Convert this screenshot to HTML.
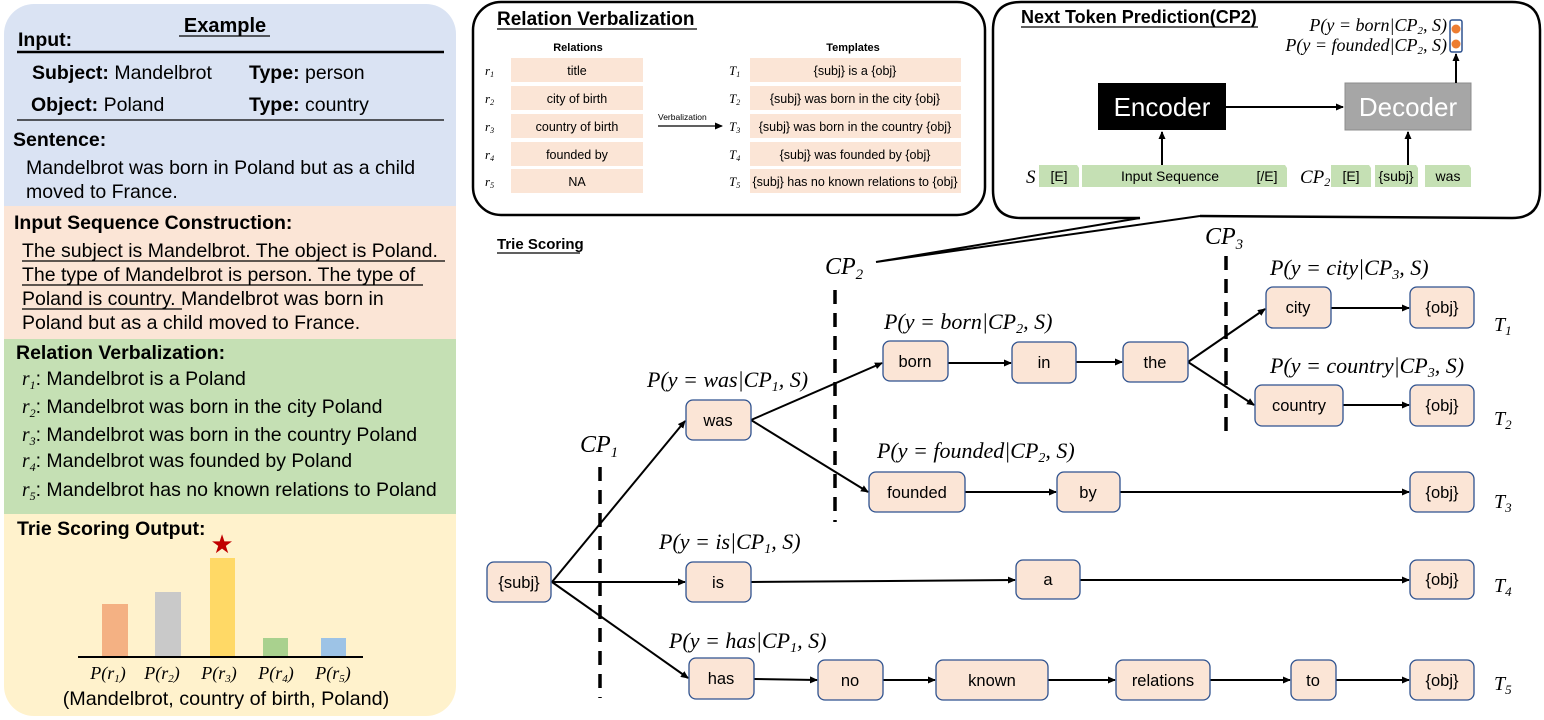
<!DOCTYPE html>
<html><head><meta charset="utf-8"><style>
body{margin:0;background:#fff;}
svg{display:block;font-family:"Liberation Sans",sans-serif;}
.m{font-family:"Liberation Serif",serif;font-style:italic;}
.n{fill:#fbe5d6;stroke:#2f528f;stroke-width:1.3;}
</style></head><body>
<svg width="1544" height="720" viewBox="0 0 1544 720">
<defs>
<marker id="a" markerWidth="8" markerHeight="8" refX="7" refY="4" orient="auto" markerUnits="userSpaceOnUse"><path d="M0,0.5 L8,4 L0,7.5z" fill="#000"/></marker>
<clipPath id="lp"><rect x="4" y="4" width="452" height="712" rx="30"/></clipPath>
</defs>
<!-- LEFT PANEL -->
<g clip-path="url(#lp)">
<rect x="4" y="4" width="452" height="202" fill="#dae3f3"/>
<rect x="4" y="206" width="452" height="133" fill="#fbe5d6"/>
<rect x="4" y="339" width="452" height="175" fill="#c5e0b4"/>
<rect x="4" y="514" width="452" height="202" fill="#fff2cc"/>
</g>
<g font-size="19.5" fill="#000">
<text x="225" y="32" font-weight="bold" font-size="20" text-anchor="middle">Example</text>
<line x1="179" y1="36" x2="270" y2="36" stroke="#000" stroke-width="1.2"/>
<text x="18" y="46" font-weight="bold">Input:</text>
<line x1="17" y1="52" x2="444" y2="52" stroke="#000" stroke-width="2.5"/>
<text x="32" y="79"><tspan font-weight="bold">Subject:</tspan> Mandelbrot</text>
<text x="249" y="79"><tspan font-weight="bold">Type:</tspan> person</text>
<text x="31" y="111"><tspan font-weight="bold">Object:</tspan> Poland</text>
<text x="249" y="111"><tspan font-weight="bold">Type:</tspan> country</text>
<line x1="17" y1="120" x2="444" y2="120" stroke="#000" stroke-width="1.3"/>
<text x="13" y="146" font-weight="bold">Sentence:</text>
<text x="26" y="174">Mandelbrot was born in Poland but as a child</text>
<text x="26" y="198">moved to France.</text>
<text x="14" y="229" font-weight="bold">Input Sequence Construction:</text>
<text x="22" y="257">The subject is Mandelbrot. The object is Poland.</text>
<text x="22" y="281">The type of Mandelbrot is person. The type of</text>
<text x="22" y="305">Poland is country. Mandelbrot was born in</text>
<text x="22" y="329">Poland but as a child moved to France.</text>
<g stroke="#000" stroke-width="1.2"><line x1="22" y1="261" x2="445" y2="261"/><line x1="22" y1="285" x2="423" y2="285"/><line x1="22" y1="309" x2="182" y2="309"/></g>
<text x="16" y="359" font-weight="bold">Relation Verbalization:</text>
<text x="22" y="385"><tspan class="m">r</tspan><tspan class="m" font-size="12" dy="4">1</tspan><tspan dy="-4">: Mandelbrot is a Poland</tspan></text>
<text x="22" y="413"><tspan class="m">r</tspan><tspan class="m" font-size="12" dy="4">2</tspan><tspan dy="-4">: Mandelbrot was born in the city Poland</tspan></text>
<text x="22" y="441"><tspan class="m">r</tspan><tspan class="m" font-size="12" dy="4">3</tspan><tspan dy="-4">: Mandelbrot was born in the country Poland</tspan></text>
<text x="22" y="467"><tspan class="m">r</tspan><tspan class="m" font-size="12" dy="4">4</tspan><tspan dy="-4">: Mandelbrot was founded by Poland</tspan></text>
<text x="22" y="496"><tspan class="m">r</tspan><tspan class="m" font-size="12" dy="4">5</tspan><tspan dy="-4">: Mandelbrot has no known relations to Poland</tspan></text>
<text x="17" y="535" font-weight="bold">Trie Scoring Output:</text>
</g>
<rect x="102" y="604" width="26" height="53" fill="#f4b183"/>
<rect x="155" y="592" width="26" height="65" fill="#c9c9c9"/>
<rect x="210" y="558" width="25" height="99" fill="#ffd966"/>
<rect x="263" y="638" width="25" height="19" fill="#a9d18e"/>
<rect x="321" y="638" width="25" height="19" fill="#9dc3e6"/>
<line x1="78" y1="657" x2="363" y2="657" stroke="#000" stroke-width="2"/>
<text x="222" y="553" font-size="26" fill="#c00000" text-anchor="middle">★</text>
<g class="m" font-size="18" text-anchor="middle">
<text x="108" y="679">P(r<tspan font-size="11" dy="3">1</tspan><tspan dy="-3">)</tspan></text>
<text x="162" y="679">P(r<tspan font-size="11" dy="3">2</tspan><tspan dy="-3">)</tspan></text>
<text x="219" y="679">P(r<tspan font-size="11" dy="3">3</tspan><tspan dy="-3">)</tspan></text>
<text x="276" y="679">P(r<tspan font-size="11" dy="3">4</tspan><tspan dy="-3">)</tspan></text>
<text x="333" y="679">P(r<tspan font-size="11" dy="3">5</tspan><tspan dy="-3">)</tspan></text>
</g>
<text x="226" y="705" font-size="19.8" text-anchor="middle">(Mandelbrot, country of birth, Poland)</text>

<!-- RELATION VERBALIZATION BOX -->
<rect x="473" y="2" width="512" height="213" rx="28" fill="none" stroke="#000" stroke-width="2.5"/>
<text x="497" y="25" font-size="19" font-weight="bold">Relation Verbalization</text>
<line x1="497" y1="29" x2="697" y2="29" stroke="#000" stroke-width="1.3"/>
<text x="578" y="51" font-size="11" font-weight="bold" text-anchor="middle">Relations</text>
<text x="853" y="51" font-size="11" font-weight="bold" text-anchor="middle">Templates</text>
<g font-size="12.5" text-anchor="middle">
<rect x="511" y="58" width="132" height="24" fill="#fbe5d6"/><text x="577" y="75">title</text>
<rect x="511" y="86" width="132" height="24" fill="#fbe5d6"/><text x="577" y="103">city of birth</text>
<rect x="511" y="114" width="132" height="24" fill="#fbe5d6"/><text x="577" y="131">country of birth</text>
<rect x="511" y="142" width="132" height="24" fill="#fbe5d6"/><text x="577" y="159">founded by</text>
<rect x="511" y="169" width="132" height="24" fill="#fbe5d6"/><text x="577" y="186">NA</text>
<rect x="750" y="58" width="211" height="24" fill="#fbe5d6"/><text x="855" y="75">{subj} is a {obj}</text>
<rect x="750" y="86" width="211" height="24" fill="#fbe5d6"/><text x="855" y="103">{subj} was born in the city {obj}</text>
<rect x="750" y="114" width="211" height="24" fill="#fbe5d6"/><text x="855" y="131">{subj} was born in the country {obj}</text>
<rect x="750" y="142" width="211" height="24" fill="#fbe5d6"/><text x="855" y="159">{subj} was founded by {obj}</text>
<rect x="750" y="169" width="211" height="24" fill="#fbe5d6"/><text x="855" y="186">{subj} has no known relations to {obj}</text>
</g>
<g class="m" font-size="13">
<text x="485" y="75">r<tspan font-size="8" dy="2">1</tspan></text>
<text x="485" y="103">r<tspan font-size="8" dy="2">2</tspan></text>
<text x="485" y="131">r<tspan font-size="8" dy="2">3</tspan></text>
<text x="485" y="159">r<tspan font-size="8" dy="2">4</tspan></text>
<text x="485" y="186">r<tspan font-size="8" dy="2">5</tspan></text>
<text x="729" y="75">T<tspan font-size="8" dy="2">1</tspan></text>
<text x="729" y="103">T<tspan font-size="8" dy="2">2</tspan></text>
<text x="729" y="131">T<tspan font-size="8" dy="2">3</tspan></text>
<text x="729" y="159">T<tspan font-size="8" dy="2">4</tspan></text>
<text x="729" y="186">T<tspan font-size="8" dy="2">5</tspan></text>
</g>
<text x="658" y="120" font-size="8.5">Verbalization</text>
<line x1="658" y1="126" x2="722" y2="126" stroke="#000" stroke-width="1.3" marker-end="url(#a)"/>

<!-- NEXT TOKEN BOX -->
<path d="M1140,218 L1021,218 Q993,218 993,190 L993,30 Q993,2 1021,2 L1512,2 Q1540,2 1540,30 L1540,190 Q1540,218 1512,218 L1200,216" fill="none" stroke="#000" stroke-width="2.5"/>
<path d="M1140,218 L876,262 L1200,216" fill="none" stroke="#000" stroke-width="2"/>
<text x="1021" y="23" font-size="18" font-weight="bold">Next Token Prediction(CP2)</text>
<line x1="1021" y1="27" x2="1258" y2="27" stroke="#000" stroke-width="1.3"/>
<rect x="1098" y="83" width="128" height="47" fill="#000"/>
<text x="1162" y="116" font-size="26" fill="#fff" text-anchor="middle">Encoder</text>
<rect x="1345" y="83" width="126" height="47" fill="#a6a6a6" stroke="#8c8c8c"/>
<text x="1408" y="116" font-size="26" fill="#fff" text-anchor="middle">Decoder</text>
<line x1="1226" y1="107" x2="1343" y2="107" stroke="#000" stroke-width="2" marker-end="url(#a)"/>
<line x1="1162" y1="165" x2="1162" y2="132" stroke="#000" stroke-width="2" marker-end="url(#a)"/>
<line x1="1408" y1="165" x2="1408" y2="132" stroke="#000" stroke-width="2" marker-end="url(#a)"/>
<line x1="1456" y1="83" x2="1456" y2="54" stroke="#000" stroke-width="2" marker-end="url(#a)"/>
<rect x="1450" y="20" width="12" height="32" rx="2" fill="#fff" stroke="#2f528f" stroke-width="1.5"/>
<circle cx="1456" cy="29" r="4.5" fill="#ed7d31"/><circle cx="1456" cy="44" r="4.5" fill="#ed7d31"/>
<g class="m" font-size="18" text-anchor="end">
<text x="1447" y="31">P(y = born|CP<tspan font-size="11" dy="3">2</tspan><tspan dy="-3">, S)</tspan></text>
<text x="1447" y="51">P(y = founded|CP<tspan font-size="11" dy="3">2</tspan><tspan dy="-3">, S)</tspan></text>
</g>
<g fill="#c5e0b4">
<path d="M1039,165h38l2,3v19h-40z"/><path d="M1082,165h174l2,3v19h-176z"/><path d="M1247,165h38l2,3v19h-40z"/>
<path d="M1331,165h38l2,3v19h-40z"/><path d="M1375,165h41l2,3v19h-43z"/><path d="M1425,165h44l2,3v19h-46z"/>
</g>
<g font-size="14" text-anchor="middle">
<text x="1059" y="181">[E]</text><text x="1170" y="181">Input Sequence</text><text x="1267" y="181">[/E]</text>
<text x="1351" y="181">[E]</text><text x="1396" y="181">{subj}</text><text x="1448" y="181">was</text>
</g>
<text x="1026" y="183" class="m" font-size="19">S</text>
<text x="1300" y="183" class="m" font-size="19">CP<tspan font-size="12" dy="3">2</tspan></text>

<!-- TRIE -->
<text x="497" y="249" font-size="15" font-weight="bold">Trie Scoring</text>
<line x1="497" y1="253" x2="580" y2="253" stroke="#000" stroke-width="1.3"/>
<g stroke="#000" stroke-width="3.5" stroke-dasharray="14,9">
<line x1="600" y1="467" x2="600" y2="698"/>
<line x1="835" y1="290" x2="835" y2="522"/>
<line x1="1226" y1="256" x2="1226" y2="438"/>
</g>
<g class="m" font-size="24">
<text x="580" y="452">CP<tspan font-size="15" dy="5">1</tspan></text>
<text x="825" y="274">CP<tspan font-size="15" dy="5">2</tspan></text>
<text x="1205" y="244">CP<tspan font-size="15" dy="5">3</tspan></text>
</g>
<g class="m" font-size="22">
<text x="647" y="387">P(y = was|CP<tspan font-size="14" dy="4">1</tspan><tspan dy="-4">, S)</tspan></text>
<text x="659" y="549">P(y = is|CP<tspan font-size="14" dy="4">1</tspan><tspan dy="-4">, S)</tspan></text>
<text x="669" y="648">P(y = has|CP<tspan font-size="14" dy="4">1</tspan><tspan dy="-4">, S)</tspan></text>
<text x="884" y="329">P(y = born|CP<tspan font-size="14" dy="4">2</tspan><tspan dy="-4">, S)</tspan></text>
<text x="877" y="458">P(y = founded|CP<tspan font-size="14" dy="4">2</tspan><tspan dy="-4">, S)</tspan></text>
<text x="1270" y="275">P(y = city|CP<tspan font-size="14" dy="4">3</tspan><tspan dy="-4">, S)</tspan></text>
<text x="1270" y="373">P(y = country|CP<tspan font-size="14" dy="4">3</tspan><tspan dy="-4">, S)</tspan></text>
</g>
<g class="m" font-size="20">
<text x="1494" y="331">T<tspan font-size="13" dy="4">1</tspan></text>
<text x="1494" y="425">T<tspan font-size="13" dy="4">2</tspan></text>
<text x="1494" y="508">T<tspan font-size="13" dy="4">3</tspan></text>
<text x="1494" y="592">T<tspan font-size="13" dy="4">4</tspan></text>
<text x="1494" y="690">T<tspan font-size="13" dy="4">5</tspan></text>
</g>
<g stroke="#000" stroke-width="2" fill="none" marker-end="url(#a)">
<line x1="552" y1="582" x2="685" y2="421"/>
<line x1="552" y1="582" x2="685" y2="582"/>
<line x1="552" y1="582" x2="688" y2="678"/>
<line x1="751" y1="420" x2="882" y2="363"/>
<line x1="751" y1="420" x2="868" y2="492"/>
<line x1="948" y1="363" x2="1011" y2="363"/>
<line x1="1076" y1="362" x2="1122" y2="362"/>
<line x1="1188" y1="362" x2="1265" y2="309"/>
<line x1="1188" y1="362" x2="1254" y2="405"/>
<line x1="1331" y1="308" x2="1409" y2="308"/>
<line x1="1343" y1="405" x2="1409" y2="405"/>
<line x1="965" y1="492" x2="1056" y2="492"/>
<line x1="1120" y1="492" x2="1409" y2="492"/>
<line x1="751" y1="582" x2="1015" y2="580"/>
<line x1="1080" y1="580" x2="1409" y2="580"/>
<line x1="754" y1="679" x2="817" y2="680"/>
<line x1="883" y1="680" x2="935" y2="680"/>
<line x1="1048" y1="680" x2="1115" y2="680"/>
<line x1="1210" y1="680" x2="1290" y2="680"/>
<line x1="1336" y1="680" x2="1409" y2="680"/>
</g>
<g font-size="16.5" text-anchor="middle">
<rect class="n" x="487" y="562" width="64" height="40" rx="7"/><text x="519" y="588">{subj}</text>
<rect class="n" x="686" y="400" width="65" height="40" rx="7"/><text x="718" y="426">was</text>
<rect class="n" x="686" y="562" width="65" height="40" rx="7"/><text x="718" y="588">is</text>
<rect class="n" x="689" y="658" width="65" height="41" rx="7"/><text x="721" y="684">has</text>
<rect class="n" x="818" y="660" width="65" height="40" rx="7"/><text x="850" y="686">no</text>
<rect class="n" x="936" y="660" width="112" height="40" rx="7"/><text x="992" y="686">known</text>
<rect class="n" x="1116" y="660" width="94" height="40" rx="7"/><text x="1163" y="686">relations</text>
<rect class="n" x="1291" y="660" width="45" height="40" rx="7"/><text x="1313" y="686">to</text>
<rect class="n" x="883" y="341" width="65" height="40" rx="7"/><text x="915" y="367">born</text>
<rect class="n" x="1012" y="342" width="64" height="41" rx="7"/><text x="1044" y="368">in</text>
<rect class="n" x="1123" y="342" width="65" height="40" rx="7"/><text x="1155" y="368">the</text>
<rect class="n" x="1266" y="287" width="65" height="41" rx="7"/><text x="1298" y="313">city</text>
<rect class="n" x="1255" y="385" width="88" height="41" rx="7"/><text x="1299" y="411">country</text>
<rect class="n" x="869" y="472" width="96" height="40" rx="7"/><text x="917" y="498">founded</text>
<rect class="n" x="1057" y="472" width="63" height="40" rx="7"/><text x="1088" y="498">by</text>
<rect class="n" x="1016" y="560" width="64" height="39" rx="7"/><text x="1048" y="585">a</text>
<rect class="n" x="1410" y="287" width="64" height="41" rx="7"/><text x="1442" y="313">{obj}</text>
<rect class="n" x="1410" y="385" width="64" height="41" rx="7"/><text x="1442" y="411">{obj}</text>
<rect class="n" x="1410" y="472" width="64" height="40" rx="7"/><text x="1442" y="498">{obj}</text>
<rect class="n" x="1410" y="560" width="64" height="39" rx="7"/><text x="1442" y="585">{obj}</text>
<rect class="n" x="1410" y="660" width="64" height="40" rx="7"/><text x="1442" y="686">{obj}</text>
</g>
</svg>
</body></html>
